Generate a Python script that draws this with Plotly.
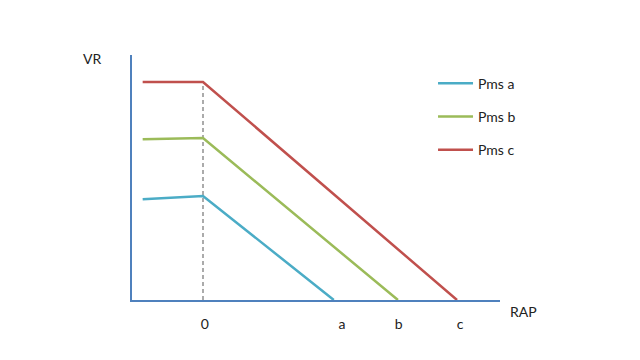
import plotly.graph_objects as go

# --- data (RAP in arbitrary units, VR in arbitrary units) ---
series_names = ["Pms a", "Pms b", "Pms c"]
series_colors = ["#4BACC6", "#9BBB59", "#C0504D"]
rap_start = -0.95
rap_plateau_end = 0.0
rap_zero_flow = [2.06, 3.07, 4.0]          # a, b, c
vr_start = [1.85, 2.95, 4.0]
vr_plateau = [1.91, 2.97, 4.0]

tick_positions = [0.03, 2.19, 3.08, 4.05]
tick_labels = ["0", "a", "b", "c"]

fig = go.Figure()

# dashed reference line at RAP = 0
fig.add_trace(go.Scatter(
    x=[rap_plateau_end, rap_plateau_end], y=[0, max(vr_plateau)],
    mode="lines", line=dict(color="#7F7F7F", width=1.3, dash="4px,3px"),
    showlegend=False, hoverinfo="skip"))

for i, name in enumerate(series_names):
    fig.add_trace(go.Scatter(
        x=[rap_start, rap_plateau_end, rap_zero_flow[i]],
        y=[vr_start[i], vr_plateau[i], 0],
        mode="lines", name=name, legendgroup=name,
        line=dict(color=series_colors[i], width=2.5)))

font_family = "Lato, Open Sans, sans-serif"

fig.update_layout(
    width=640, height=360,
    margin=dict(l=132, r=140, t=55, b=60),
    paper_bgcolor="white", plot_bgcolor="white",
    font=dict(family=font_family, size=13, color="#222222"),
    showlegend=True,
    legend=dict(x=0.818, xanchor="left", y=0.948, yanchor="top",
                tracegroupgap=12, itemwidth=35, font=dict(size=14),
                bgcolor="rgba(0,0,0,0)"),
    xaxis=dict(range=[-1.118, 4.677], showgrid=False, zeroline=False,
               showline=True, linecolor="#4F81BD", linewidth=2,
               tickvals=tick_positions, ticktext=tick_labels,
               ticks="outside", ticklen=10, tickcolor="rgba(0,0,0,0)",
               tickfont=dict(size=14, color="#222222")),
    yaxis=dict(range=[0, 4.495], showgrid=False, zeroline=False,
               showline=True, linecolor="#4F81BD", linewidth=2,
               showticklabels=False, ticks=""),
    annotations=[
        dict(x=(523 - 132) / 368, y=(300 - 311) / 245, xref="paper", yref="paper",
             xanchor="center", yanchor="middle",
             text="RAP", showarrow=False, font=dict(size=14, color="#222222")),
        dict(x=(92 - 132) / 368, y=(300 - 58) / 245, xref="paper", yref="paper",
             xanchor="center", yanchor="middle",
             text="VR", showarrow=False, font=dict(size=14, color="#222222")),
    ],
)

fig.write_html("out.html", config={"displayModeBar": False},
               post_script="document.body.style.margin='0';")
